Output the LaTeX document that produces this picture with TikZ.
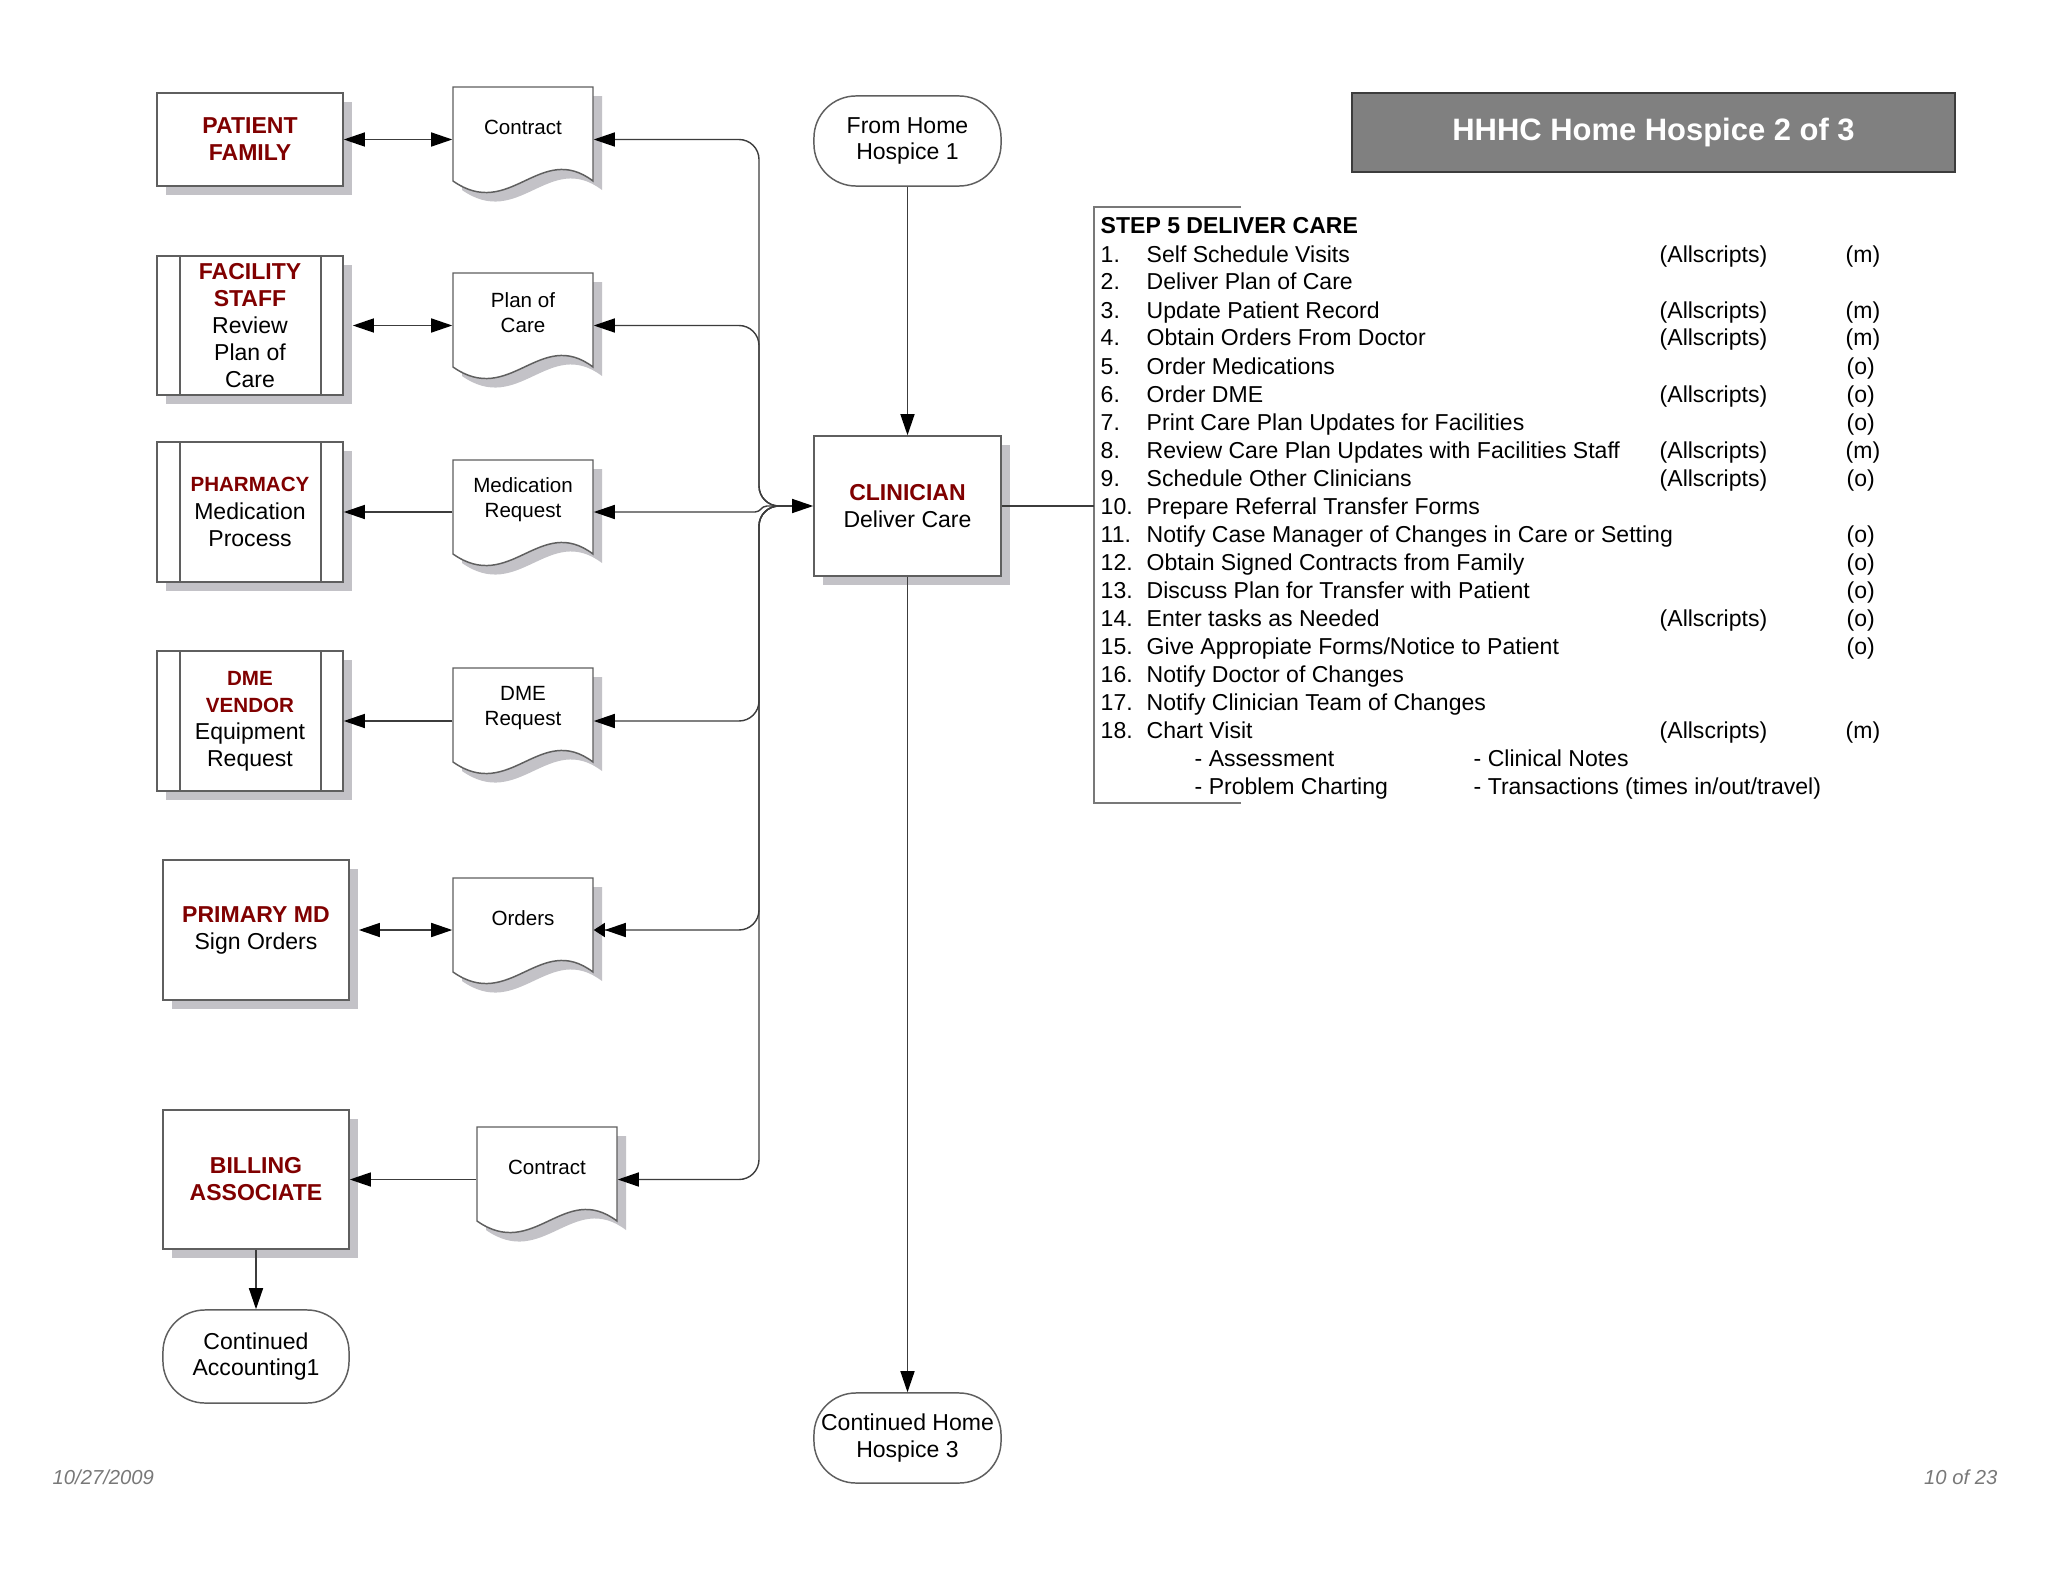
\documentclass[tikz,border=0pt]{standalone}
\usepackage{fontspec}
\setmainfont{Liberation Sans}
\usetikzlibrary{arrows.meta,shadows,calc}
\definecolor{dred}{RGB}{128,0,0}
\definecolor{shadowc}{RGB}{195,194,199}
\definecolor{lnc}{RGB}{60,60,60}
\definecolor{bxc}{RGB}{95,95,95}
\definecolor{bannerc}{RGB}{128,128,128}
\definecolor{bannerln}{RGB}{60,60,60}
\definecolor{footc}{RGB}{120,120,120}
\definecolor{brkc}{RGB}{120,120,120}
\newcommand\hhBoxFont{\fontsize{6.55}{7.7}\selectfont}
\newcommand\hhSmallBold{\fontsize{5.85}{7.2}\selectfont\bfseries}
\newcommand\hhDocFont{\fontsize{5.85}{7.1}\selectfont}
\newcommand\hhTermFont{\fontsize{6.55}{7.5}\selectfont}
\newcommand\hhStFont{\fontsize{6.55}{7.9}\selectfont}
\newcommand\hhDoc[3]{%
  \begin{scope}[shift={(#2,#3)}]
    \fill[shadowc, xshift=0.09cm, yshift=-0.09cm] (-70,-40) -- (70,-40) -- (70,54) .. controls (17,14) and (-13,94) .. (-70,54) -- cycle;
    \filldraw[draw=bxc, fill=white, line width=0.42pt] (-70,-40) -- (70,-40) -- (70,54) .. controls (17,14) and (-13,94) .. (-70,54) -- cycle;
  \end{scope}
  \node[doctext] (#1) at (#2,#3)}
\tikzset{
  vtip/.tip={Triangle[length=2.1mm,width=1.4mm,color=black]},
  conn/.style={draw=lnc, line width=0.4pt},
  procbox/.style={draw=bxc, fill=white, line width=0.42pt, minimum width=1.86cm, align=center, inner sep=0pt, font=\hhBoxFont,
    drop shadow={shadow xshift=0.09cm, shadow yshift=-0.09cm, fill=shadowc, opacity=1}},
  termbox/.style={draw=bxc, fill=white, line width=0.42pt, rounded corners=0.42cm, minimum width=1.87cm, minimum height=0.9cm, align=center, inner sep=0pt, font=\hhTermFont},
  doctext/.style={minimum width=1.4cm, minimum height=0.8cm, inner sep=0pt, align=center, font=\hhDocFont},
  st/.style={anchor=base west, inner sep=0pt, font=\hhStFont},
  innerln/.style={draw=bxc, line width=0.42pt},
  foot/.style={inner sep=0pt, text=footc, font=\fontsize{5.75}{7}\selectfont\itshape},
}
\begin{document}
\begin{tikzpicture}[x=0.01cm, y=-0.01cm]
\fill[white] (0,0) rectangle (2048,1582);
\useasboundingbox (0,0) rectangle (2048,1582);

% ---------- left process boxes ----------
\node[procbox, minimum height=0.93cm] (pf) at (250,139.5) {\textcolor{dred}{\bfseries PATIENT}\\\textcolor{dred}{\bfseries FAMILY}};
\node[procbox, minimum height=1.39cm] (fs) at (250,325.5) {\textcolor{dred}{\bfseries FACILITY}\\\textcolor{dred}{\bfseries STAFF}\\Review\\Plan of\\Care};
\node[procbox, minimum height=1.40cm] (ph) at (250,512) {\textcolor{dred}{\hhSmallBold PHARMACY}\\Medication\\Process};
\node[procbox, minimum height=1.40cm] (dme) at (250,721) {\textcolor{dred}{\hhSmallBold DME}\\\textcolor{dred}{\hhSmallBold VENDOR}\\Equipment\\Request};
\node[procbox, minimum height=1.40cm] (pmd) at (256,930) {\textcolor{dred}{\bfseries PRIMARY MD}\\Sign Orders};
\node[procbox, minimum height=1.39cm] (ba) at (256,1179.5) {\textcolor{dred}{\bfseries BILLING}\\\textcolor{dred}{\bfseries ASSOCIATE}};
\node[termbox, minimum width=1.86cm, minimum height=0.93cm] (ca) at (256,1356.5) {Continued\\Accounting1};

\foreach \b in {fs,ph,dme}{
  \draw[innerln] ([xshift=0.24cm]\b.north west) -- ([xshift=0.24cm]\b.south west);
  \draw[innerln] ([xshift=-0.23cm]\b.north east) -- ([xshift=-0.23cm]\b.south east);
}

% ---------- documents ----------
\hhDoc{d1}{523}{127}{Contract};
\hhDoc{d2}{523}{313}{Plan of\\Care};
\hhDoc{d3}{523}{500}{Medication\\Request};
\hhDoc{d4}{523}{708}{DME\\Request};
\hhDoc{d5}{523}{918}{Orders};
\hhDoc{d6}{547}{1167}{Contract};

% ---------- centre column ----------
\node[termbox] (fh) at (907.5,141) {From Home\\Hospice 1};
\node[procbox, minimum width=1.87cm, minimum height=1.40cm] (clin) at (907.5,506) {\textcolor{dred}{\bfseries CLINICIAN}\\Deliver Care};
\node[termbox] (ch) at (907.5,1438) {Continued Home\\Hospice 3};

% ---------- title ----------
\node[draw=bannerln, fill=bannerc, line width=0.6pt, minimum width=6.03cm, minimum height=0.79cm, text=white,
      font=\fontsize{8.8}{10}\selectfont\bfseries] (title) at (1653.5,132.5) {HHHC Home Hospice 2 of 3};

% ---------- step list ----------
\coordinate (brk) at (1094,506);
\draw[draw=brkc, line width=0.5pt] (1241,207) -- (1094,207) -- (1094,803) -- (1241,803);
\node[st, font=\hhStFont\bfseries] (hdr) at (1100,234) {STEP 5 DELIVER CARE};
\foreach \k in {1,...,18}{
  \node[st] (num\k) at (1100,{262+28*(\k-1)}) {\k.};
}
\node[st] (t1) at (1146,262) {Self Schedule Visits};
\node[st] (t2) at (1146,290) {Deliver Plan of Care};
\node[st] (t3) at (1146,318) {Update Patient Record};
\node[st] (t4) at (1146,346) {Obtain Orders From Doctor};
\node[st] (t5) at (1146,374) {Order Medications};
\node[st] (t6) at (1146,402) {Order DME};
\node[st] (t7) at (1146,430) {Print Care Plan Updates for Facilities};
\node[st] (t8) at (1146,458) {Review Care Plan Updates with Facilities Staff};
\node[st] (t9) at (1146,486) {Schedule Other Clinicians};
\node[st] (t10) at (1146,514) {Prepare Referral Transfer Forms};
\node[st] (t11) at (1146,542) {Notify Case Manager of Changes in Care or Setting};
\node[st] (t12) at (1146,570) {Obtain Signed Contracts from Family};
\node[st] (t13) at (1146,598) {Discuss Plan for Transfer with Patient};
\node[st] (t14) at (1146,626) {Enter tasks as Needed};
\node[st] (t15) at (1146,654) {Give Appropiate Forms/Notice to Patient};
\node[st] (t16) at (1146,682) {Notify Doctor of Changes};
\node[st] (t17) at (1146,710) {Notify Clinician Team of Changes};
\node[st] (t18) at (1146,738) {Chart Visit};
\foreach \k in {1,3,4,6,8,9,14,18}{
  \node[st] (a\k) at (1659,{262+28*(\k-1)}) {(Allscripts)};
}
\foreach \k in {1,3,4,8,18}{
  \node[st] (m\k) at (1845,{262+28*(\k-1)}) {(m)};
}
\foreach \k in {5,6,7,9,11,12,13,14,15}{
  \node[st] (o\k) at (1846,{262+28*(\k-1)}) {(o)};
}
\node[st] (s1) at (1194,766) {- Assessment};
\node[st] (s2) at (1473,766) {- Clinical Notes};
\node[st] (s3) at (1194,794) {- Problem Charting};
\node[st] (s4) at (1473,794) {- Transactions (times in/out/travel)};

% ---------- footer ----------
\node[foot, anchor=base west] (date) at (52,1484) {10/27/2009};
\node[foot, anchor=base east] (page) at (1998,1484) {10 of 23};

% ---------- connectors: boxes <-> documents ----------
\draw[conn, vtip-vtip] (pf.east) -- (d1.west |- pf.east);
\draw[conn, vtip-vtip] ([xshift=0.09cm]fs.east) -- (d2.west |- fs.east);
\draw[conn, -vtip] (d3.west |- ph.east) -- (ph.east);
\draw[conn, -vtip] (d4.west |- dme.east) -- (dme.east);
\draw[conn, vtip-vtip] ([xshift=0.09cm]pmd.east) -- (d5.west |- pmd.east);
\draw[conn, -vtip] (d6.west |- ba.east) -- (ba.east);
\draw[conn, -vtip] (ba.south) -- (ca.north);

% ---------- trunk ----------
\coordinate (tr) at (759,506);
\coordinate (jn) at (780,506);
\draw[conn, -vtip] (jn) -- (clin.west);
\draw[conn, rounded corners=0.2cm, vtip-] (d1.east |- pf.east) -| (tr) -- (jn);
\draw[conn, rounded corners=0.2cm, vtip-] (d2.east |- fs.east) -| (tr) -- (jn);
\draw[conn, rounded corners=0.2cm, vtip-] (d4.east |- dme.east) -| (tr) -- (jn);
\draw[conn, rounded corners=0.2cm, {Triangle[length=1.1mm,width=1.4mm,color=black]Triangle[length=2.1mm,width=1.4mm,color=black]}-] (d5.east |- pmd.east) -| (tr) -- (jn);
\draw[conn, rounded corners=0.2cm, vtip-] (d6.east |- ba.east) -| (tr) -- (jn);
\draw[conn, vtip-] (d3.east |- ph.east) -- ($(tr)+(-4,6)$) .. controls ($(tr)+(2,6)$) and ($(tr)+(2,0)$) .. ($(tr)+(8,0)$) -- (jn);

% ---------- centre flow ----------
\draw[conn, -vtip] (fh.south) -- (clin.north);
\draw[conn, -vtip] (clin.south) -- (ch.north);
\draw[conn] (clin.east) -- (brk);
\end{tikzpicture}
\end{document}
